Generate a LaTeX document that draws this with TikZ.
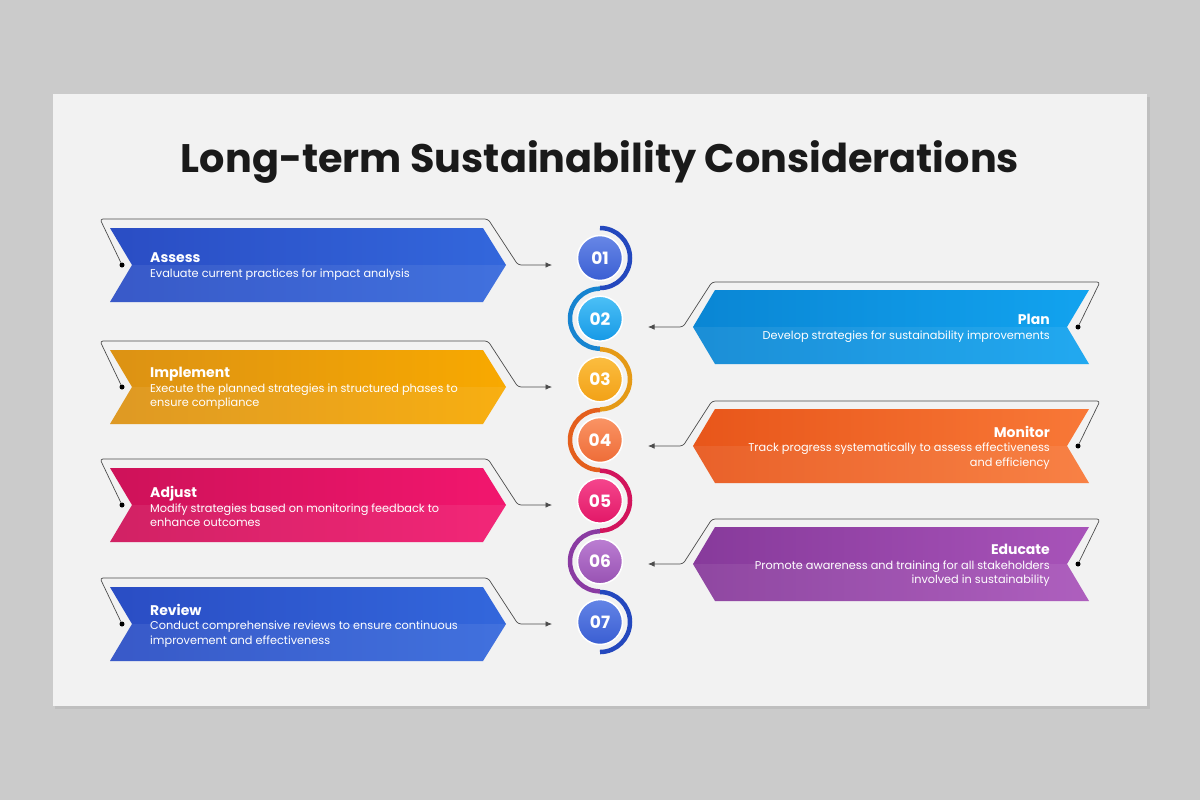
\documentclass[tikz,border=0pt]{standalone}
\usepackage{fontspec}
\setmainfont{Poppins}
\usetikzlibrary{arrows.meta}

\definecolor{pagebg}{HTML}{CBCBCB}
\definecolor{slidebg}{HTML}{F2F2F2}
\definecolor{titleink}{HTML}{1A1A1A}
\definecolor{assessL}{HTML}{2A4DC4}
\definecolor{assessR}{HTML}{3367DC}
\definecolor{planL}{HTML}{0A86D4}
\definecolor{planR}{HTML}{12A3EF}
\definecolor{implL}{HTML}{DC9214}
\definecolor{implR}{HTML}{F8A900}
\definecolor{monL}{HTML}{E8561A}
\definecolor{monR}{HTML}{F87837}
\definecolor{adjL}{HTML}{CE1259}
\definecolor{adjR}{HTML}{F2166E}
\definecolor{eduL}{HTML}{873A9B}
\definecolor{eduR}{HTML}{A853B9}

\newcommand{\headtext}{\bfseries\fontsize{14}{14.5}\selectfont}
\newcommand{\desctext}{\fontsize{11.3}{14.5}\selectfont}

\begin{document}
\begin{tikzpicture}[x=1pt, y=-1pt]
\tikzstyle{link}=[draw=black!70, line width=0.7pt, rounded corners=3pt]
\tikzstyle{post}=[-{Latex[length=6.5pt,width=5.5pt]}]
\tikzstyle{bullet}=[circle, fill=black, inner sep=0pt, minimum size=5pt]
\tikzstyle{lefttext}=[anchor=west, align=left, text=white, inner sep=0pt, yshift=-1.5pt, font=\desctext]
\tikzstyle{righttext}=[anchor=east, align=right, text=white, inner sep=0pt, yshift=-1.5pt, font=\desctext]
\tikzstyle{stepcircle}=[circle, minimum size=45pt, inner sep=0pt, draw=white,
                        line width=1.5pt, text=white, font=\bfseries\fontsize{17}{17}\selectfont]
\tikzstyle{steparc}=[line width=4.5pt]
\useasboundingbox (0,0) rectangle (1200,800);
\fill[pagebg] (0,0) rectangle (1200,800);
\fill[black, opacity=0.06] (55,97) rectangle (1150,709);
\fill[slidebg] (53,94) rectangle (1147,706);

\node[text=titleink, font=\bfseries\fontsize{39.8}{42}\selectfont] (title) at (600,162.5)
  {Long-term Sustainability Considerations};

% Assess
\shade[left color=assessL, right color=assessR] (110,228) -- (483,228) -- (506,265) -- (483,302) -- (110,302) -- (132,265) -- cycle;
\fill[white, opacity=0.07] (132,265) -- (506,265) -- (483,302) -- (110,302) -- cycle;
\node[lefttext] (t1) at (150,265) {{\headtext Assess}\\Evaluate current practices for impact analysis};
\node[bullet] (d1) at (122,265) {};
\coordinate (a1) at (552,265);
\draw[link, post] (d1) -- (100,219) -- (488,219) -- (518,265) -- (a1);

% Plan
\shade[left color=planL, right color=planR] (1089,290) -- (715,290) -- (693,327) -- (715,364) -- (1089,364) -- (1067,327) -- cycle;
\fill[white, opacity=0.07] (1067,327) -- (693,327) -- (715,364) -- (1089,364) -- cycle;
\node[righttext] (t2) at (1050,327) {{\headtext Plan}\\Develop strategies for sustainability improvements};
\node[bullet] (d2) at (1078,327) {};
\coordinate (a2) at (648,327);
\draw[link, post] (d2) -- (1100,282) -- (712,282) -- (683,327) -- (a2);

% Implement
\shade[left color=implL, right color=implR] (110,350) -- (483,350) -- (506,387) -- (483,424) -- (110,424) -- (132,387) -- cycle;
\fill[white, opacity=0.07] (132,387) -- (506,387) -- (483,424) -- (110,424) -- cycle;
\node[lefttext] (t3) at (150,387) {{\headtext Implement}\\Execute the planned strategies in structured phases to\\ensure compliance};
\node[bullet] (d3) at (122,387) {};
\coordinate (a3) at (552,387);
\draw[link, post] (d3) -- (100,341) -- (488,341) -- (518,387) -- (a3);

% Monitor
\shade[left color=monL, right color=monR] (1089,409) -- (715,409) -- (693,446) -- (715,483) -- (1089,483) -- (1067,446) -- cycle;
\fill[white, opacity=0.07] (1067,446) -- (693,446) -- (715,483) -- (1089,483) -- cycle;
\node[righttext] (t4) at (1050,446) {{\headtext Monitor}\\Track progress systematically to assess effectiveness\\and efficiency};
\node[bullet] (d4) at (1078,446) {};
\coordinate (a4) at (648,446);
\draw[link, post] (d4) -- (1100,401) -- (712,401) -- (683,446) -- (a4);

% Adjust
\shade[left color=adjL, right color=adjR] (110,468) -- (483,468) -- (506,505) -- (483,542) -- (110,542) -- (132,505) -- cycle;
\fill[white, opacity=0.07] (132,505) -- (506,505) -- (483,542) -- (110,542) -- cycle;
\node[lefttext] (t5) at (150,505) {{\headtext Adjust}\\Modify strategies based on monitoring feedback to\\enhance outcomes};
\node[bullet] (d5) at (122,505) {};
\coordinate (a5) at (552,505);
\draw[link, post] (d5) -- (100,459) -- (488,459) -- (518,505) -- (a5);

% Educate
\shade[left color=eduL, right color=eduR] (1089,527) -- (715,527) -- (693,564) -- (715,601) -- (1089,601) -- (1067,564) -- cycle;
\fill[white, opacity=0.07] (1067,564) -- (693,564) -- (715,601) -- (1089,601) -- cycle;
\node[righttext] (t6) at (1050,564) {{\headtext Educate}\\Promote awareness and training for all stakeholders\\involved in sustainability};
\node[bullet] (d6) at (1078,564) {};
\coordinate (a6) at (648,564);
\draw[link, post] (d6) -- (1100,519) -- (712,519) -- (683,564) -- (a6);

% Review
\shade[left color=assessL, right color=assessR] (110,587) -- (483,587) -- (506,624) -- (483,661) -- (110,661) -- (132,624) -- cycle;
\fill[white, opacity=0.07] (132,624) -- (506,624) -- (483,661) -- (110,661) -- cycle;
\node[lefttext] (t7) at (150,624) {{\headtext Review}\\Conduct comprehensive reviews to ensure continuous\\improvement and effectiveness};
\node[bullet] (d7) at (122,624) {};
\coordinate (a7) at (552,624);
\draw[link, post] (d7) -- (100,578) -- (488,578) -- (518,624) -- (a7);

% numbered circles with half rings
\foreach \n/\ctop/\cbot/\carc [count=\i] in {01/6787E6/3B5FD3/2448BE, 02/4CC0F6/1699E6/1784D0,
    03/FBBD40/F2A116/E59A16, 04/FA9464/EE6C38/E45F1D, 05/F5468D/E21867/D2145C,
    06/BB7ED2/9852B3/8A3BA2, 07/6384E6/3A5ED2/2448BE} {
  \definecolor{cirtop}{HTML}{\ctop}
  \definecolor{cirbot}{HTML}{\cbot}
  \definecolor{cirarc}{HTML}{\carc}
  \pgfmathsetmacro\yy{258+60.67*(\i-1)}
  \node[stepcircle, top color=cirtop, bottom color=cirbot] (s\i) at (600,\yy) {\n};
  \ifodd\i
    \draw[steparc, cirarc] (s\i.center) ++(0,-30) arc[start angle=-90, end angle=90, radius=30];
  \else
    \draw[steparc, cirarc] (s\i.center) ++(0,-30) arc[start angle=-90, end angle=-270, radius=30];
  \fi
}
\end{tikzpicture}
\end{document}
